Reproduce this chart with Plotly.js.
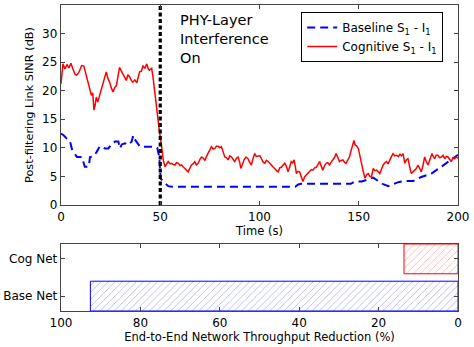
<!DOCTYPE html>
<html><head><meta charset="utf-8">
<script src="https://cdn.plot.ly/plotly-3.0.1.min.js"></script>
<style>html,body{margin:0;padding:0;background:#fff}#chart{width:474px;height:347px}</style>
</head><body><div id="chart"></div>
<script>
// Cognitive S1 - I1 (red, solid)
var cogTime = [0,1,2,3,4,5,6,7,7.8,9,10.4,11.5,12.5,13.6,14.5,15.3,16,16.6,17.2,17.8,18.5,19.5,20.3,21.2,22,22.8,23.6,24.5,25.3,26.2,27,27.9,28.7,29.5,30.3,31.2,32,32.9,33.7,34.6,35.4,36.2,37.2,38.2,39.6,40.5,41.3,42.2,43.2,44,44.6,45.7,46.5,47.3,48.2,49.5,50.7,51.5,52.4,53.2,54,55,55.7,56.5,57.4,58.2,59.1,60,60.7,61.5,62.4,63.2,64.1,65,65.7,66.5,67.4,68.2,69.1,70,70.8,71.6,72.5,73.3,74.1,75,75.8,76.7,77.5,78.3,79.2,80,80.8,81.7,82.5,83.3,84.2,85,85.9,86.7,87.5,88.4,89.2,90,90.6,91.4,92.2,93.2,94.2,95,95.9,96.8,97.6,98.4,99.3,100.2,101,101.8,102.7,103.5,104.4,105.2,106,106.9,107.7,108.5,109.4,110.2,111,111.9,112.7,113.5,114.4,115.2,116,116.7,117.4,118,118.6,119.4,120.2,121,121.9,122.7,123.6,124.4,125.3,126.1,126.9,127.8,128.6,129.4,130.3,131.1,131.9,132.8,133.6,134.4,135.3,136.1,137,137.8,138.6,139.5,140.3,141.2,142,142.8,143.6,144.5,145.3,146.2,147,147.6,148.1,149,149.8,150.6,151.5,152.3,153.1,154,154.8,155.6,156.4,157.3,158.1,159,159.8,160.6,161.5,162.3,163.2,164,164.8,165.6,166.5,167.3,168.1,169,170,170.8,171.5,172.3,173.2,174,174.8,175.7,176.5,177.3,178.2,179,179.9,180.7,181.5,182.4,183.2,184,184.9,185.9,186.9,187.5,188.2,189,189.9,190.7,191.6,192.5,193.3,194.1,194.9,195.8,196.6,197.5,198.3,199.1,200];
var cogSINR = [21.2,24.7,23.8,24.6,24.0,24.8,23.8,22.9,22.7,23.2,24.4,24.3,23.0,21.5,20.5,19.2,19.6,16.6,17.5,18.9,18.0,19.2,20.2,21.5,22.3,23.3,22.2,21.5,20.5,19.8,20.5,20.9,22.5,24.1,23.5,22.9,22.5,21.8,22.8,22.4,21.8,21.5,21.9,21.4,23.3,23.4,24.4,23.9,24.7,23.8,23.6,23.9,22.0,19.5,16.6,13.1,10.2,7.9,6.7,7.3,7.6,7.2,7.3,7.1,7.0,7.4,7.3,6.9,7.0,6.7,6.4,6.1,5.8,6.5,7.0,7.2,7.6,7.0,7.3,8.0,8.4,8.2,7.8,8.5,9.0,9.6,10.2,9.8,9.9,10.3,10.3,10.0,10.2,9.3,8.4,8.3,7.9,8.6,8.4,8.0,7.6,8.2,8.4,7.5,6.4,7.1,7.9,8.4,8.1,7.5,7.0,8.2,9.0,8.5,8.6,8.6,8.1,7.5,7.3,7.8,7.6,7.2,7.0,6.6,6.4,6.0,5.8,6.5,6.6,7.0,7.3,6.8,5.8,6.7,7.6,7.4,7.9,6.8,5.5,5.9,5.8,5.0,4.1,4.9,5.2,5.6,5.8,6.2,6.1,6.5,6.6,7.1,7.6,6.8,6.1,6.9,7.3,7.4,7.0,7.5,7.9,8.3,9.0,8.2,7.6,7.8,7.9,7.5,7.3,7.9,8.4,9.6,10.8,11.3,10.5,10.3,9.9,8.4,7.0,5.8,4.7,5.3,5.5,5.0,4.9,6.4,6.0,6.1,5.8,5.5,6.3,7.0,7.4,7.6,7.2,7.9,8.5,9.0,8.6,8.7,8.5,8.9,8.6,9.0,7.3,7.9,8.1,6.6,5.5,5.8,6.1,6.4,7.0,6.3,5.8,7.0,8.4,7.6,7.0,8.0,9.0,8.5,8.1,8.7,8.7,8.3,8.4,8.7,8.1,8.5,8.4,8.0,7.6,8.3,8.1,8.4,8.2];

// Baseline S1 - I1 (blue, dashed)
var baseTime = [0,1.3,3,4.5,5.5,7,8,10.5,11.3,12,14,14.6,16.3,18,19.6,20.5,22.2,23.9,25.5,27.2,28.9,29.7,30.6,32.2,33.9,35.6,36.4,37.2,38.1,39.8,42.4,45.7,47.4,48.5,49.5,50.2,51.5,53,54,56,118,119.5,121,146,147.5,149,151.5,154,157.3,159.8,162,164.9,167.5,169.9,173.5,177.5,181.5,186.6,191.6,196.6,200];
var baseSINR = [12.5,12.2,11.6,11.2,9.8,9.0,8.4,8.4,7.5,6.7,6.7,8.4,8.5,9.3,10.3,10.2,9.9,9.9,10.6,11.1,11.1,9.9,10.6,10.8,10.5,11.1,12.2,11.5,11.1,10.2,10.2,10.2,10.2,10.0,8.4,4.6,4.1,3.5,3.3,3.2,3.2,3.6,3.7,3.7,4.0,4.1,4.1,4.4,4.8,4.2,3.7,3.3,3.6,4.0,4.2,4.2,4.9,5.5,6.7,7.9,8.8];

// Interference-on marker
var onTime = [50, 50];
var onRange = [0, 35];

// Throughput reduction bars
var netNames = ["Base Net", "Cog Net"];
var reduction = [92.6, 13.6];
var barColors = ["#0000ff", "#ff0000"];
var hatchColors = ["rgba(0,0,255,0.35)", "rgba(255,0,0,0.35)"];

var FONT = "DejaVu Sans, sans-serif";
var frame = "#444";

var traces = [
  {x: baseTime, y: baseSINR, type: "scatter", mode: "lines", name: "Baseline S<sub>1</sub> - I<sub>1</sub>",
   line: {color: "#0000ff", width: 2, dash: "8px,5px"}, xaxis: "x", yaxis: "y"},
  {x: cogTime, y: cogSINR, type: "scatter", mode: "lines", name: "Cognitive S<sub>1</sub> - I<sub>1</sub>",
   line: {color: "#ff0000", width: 1.5}, xaxis: "x", yaxis: "y"},
  {x: onTime, y: onRange, type: "scatter", mode: "lines", showlegend: false,
   line: {color: "#000", width: 3.2, dash: "4px,2.5px"}, xaxis: "x", yaxis: "y"},
  {y: netNames, x: reduction, type: "bar", orientation: "h", width: 0.8, showlegend: false,
   xaxis: "x2", yaxis: "y2",
   marker: {color: "#fff", line: {color: barColors, width: 1},
     pattern: {shape: "/", fgcolor: hatchColors, bgcolor: "#fff", size: 5, solidity: 0.15}}}
];

var axBase = {showline: true, linecolor: frame, linewidth: 1.3, mirror: "allticks", ticks: "inside",
  ticklen: 4, tickcolor: frame, showgrid: false, zeroline: false,
  tickfont: {family: FONT, size: 12, color: "#000"}};

var layout = {
  width: 474, height: 347,
  margin: {l: 61, r: 16, t: 5, b: 36},
  paper_bgcolor: "#fff", plot_bgcolor: "#fff",
  font: {family: FONT, color: "#000"},
  xaxis: Object.assign({}, axBase, {domain: [0, 1], anchor: "y", range: [0, 200], tickvals: [0, 50, 100, 150, 200],
    title: {text: "Time (s)", font: {family: FONT, size: 11.5}, standoff: 0}}),
  yaxis: Object.assign({}, axBase, {domain: [0.3464, 1], anchor: "x", range: [0, 35], tickvals: [0, 5, 10, 15, 20, 25, 30],
    title: {text: "Post-filtering Link SINR (dB)", font: {family: FONT, size: 11.3}, standoff: 6}}),
  xaxis2: Object.assign({}, axBase, {domain: [0, 1], anchor: "y2", range: [100, 0], tickvals: [100, 80, 60, 40, 20, 0],
    title: {text: "End-to-End Network Throughput Reduction (%)", font: {family: FONT, size: 11.5}, standoff: 0}}),
  yaxis2: Object.assign({}, axBase, {domain: [0, 0.219], anchor: "x2", range: [-0.4, 1.4], type: "category",
    categoryorder: "array", categoryarray: netNames}),
  legend: {x: 0.605, xanchor: "left", y: 0.977, yanchor: "top", bordercolor: "#000", borderwidth: 1,
    bgcolor: "#fff", font: {family: FONT, size: 12}, tracegroupgap: 0, itemwidth: 30},
  annotations: [{text: "PHY-Layer<br>Interference<br>On", xref: "x", yref: "y", x: 59, y: 34.2,
    xanchor: "left", yanchor: "top", showarrow: false, align: "left",
    font: {family: FONT, size: 14.5, color: "#000"}}],
  showlegend: true
};

Plotly.newPlot("chart", traces, layout, {staticPlot: true, displayModeBar: false});
</script></body></html>
